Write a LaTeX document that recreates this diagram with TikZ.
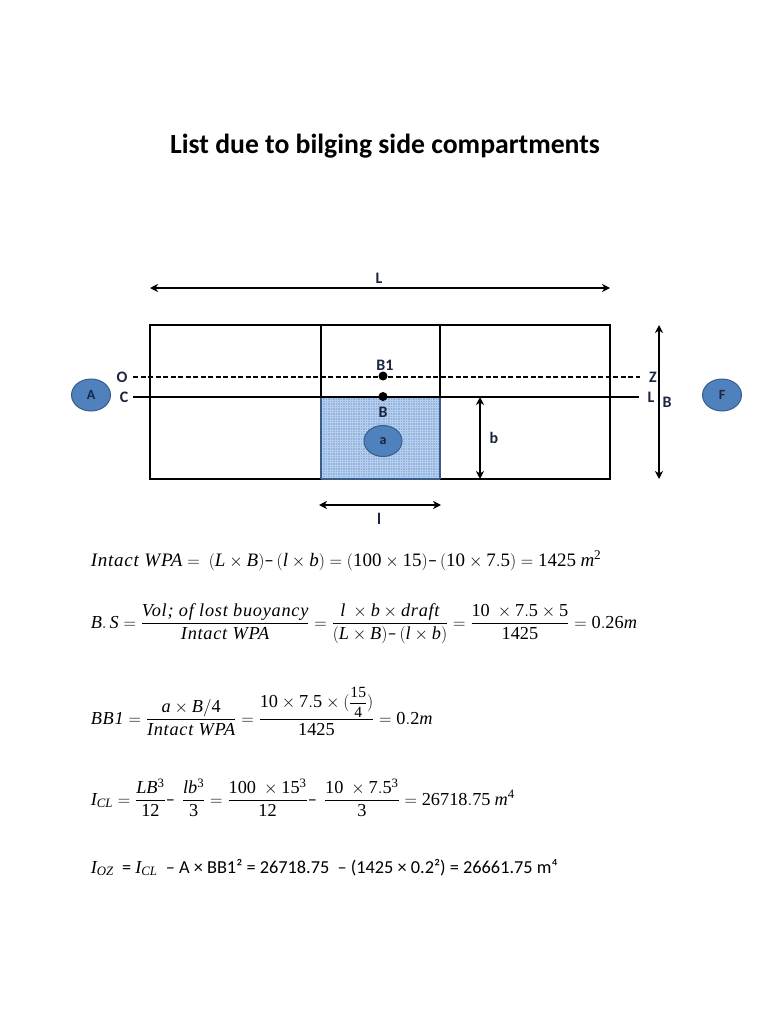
\documentclass[tikz,border=0pt]{standalone}
\usepackage{amsmath}
\usepackage{mathspec}
\setmainfont{Carlito}
\setmathfont(Digits,Latin){Liberation Serif}
\newfontfamily\eqfont[LetterSpace=4]{Liberation Serif}
\usetikzlibrary{arrows.meta}
\usetikzlibrary{shapes.geometric}
\definecolor{bluefill}{HTML}{4F81BD}
\definecolor{bluehatch}{HTML}{8FB1DF}
\definecolor{bluegrid}{HTML}{B7CDEC}
\definecolor{blueline}{HTML}{385D8A}
\definecolor{labelcol}{HTML}{1B2440}
\def\dashop{\mbox{--}\,}
\newcommand{\eqw}[1]{\text{\eqfont\itshape #1}}

\begin{document}
\begin{tikzpicture}[x=1pt,y=-1pt,line width=1.6pt,>={Stealth[length=8pt,width=8pt,inset=2.5pt]}]
	\tikzstyle{marker}=[ellipse,fill=bluefill,draw=blueline,line width=1pt,minimum width=39pt,minimum height=32pt,inner sep=0pt,font=\bfseries\fontsize{14}{14}\selectfont,text=labelcol]
	\tikzstyle{dot}=[circle,fill=black,minimum size=9pt,inner sep=0pt]
	\tikzstyle{annot}=[font=\bfseries\fontsize{16}{16}\selectfont,text=labelcol,inner sep=0pt]
	\tikzstyle{formula}=[anchor=base west,inner sep=0pt,font=\fontsize{18.3}{20}\selectfont]
	\useasboundingbox (0,0) rectangle (768,1024);

	\node[font=\bfseries\fontsize{27.7}{30}\selectfont] (title) at (385,146) {List due to bilging side compartments};

	% Draw the flooded compartment
	\fill[bluehatch] (321,397) rectangle (440,479);
	\draw[bluegrid,line width=0.6pt,step=2.5pt] (321,397) grid (440,479);

	% Draw the hull
	\draw (150,325) rectangle (610,479);
	\draw (321,325) -- (321,479);
	\draw (440,325) -- (440,479);
	\draw[blueline] (321,397) -- (321,479) (440,397) -- (440,479) (321,479) -- (440,479);

	% The end points of the arrows and waterlines
	\foreach \name / \x / \y in {L1/150/288,L2/610/288,l1/319/505,l2/441/505,b1/480/397,b2/480/479,B1/659/325,B2/659/479,O1/133/377,O2/640/377,C1/133/397,C2/639/397}
	\coordinate (\name) at (\x,\y);

	% Waterlines
	\draw[dash pattern=on 5pt off 2.5pt] (O1) -- (O2);
	\draw (C1) -- (C2);
	\node[annot] (O) at (122,377) {O};
	\node[annot] (C) at (124,397) {C};
	\node[annot] (Z) at (653,377) {Z};
	\node[annot] (WL) at (651,397) {L};

	% Centres of buoyancy
	\node[dot] (G1) at (383,376) {};
	\node[dot] (G) at (383,396.5) {};
	\node[annot] (G1t) at (385,365) {B1};
	\node[annot] (Gt) at (383,412) {B};

	% Markers
	\node[marker] (A) at (91,395) {A};
	\node[marker] (F) at (722,395) {F};
	\node[marker,minimum width=38pt,minimum height=31pt] (a) at (383,441) {a};

	% Dimension arrows
	\draw[<->] (L1) -- (L2);
	\draw[<->] (l1) -- (l2);
	\draw[<->] (b1) -- (b2);
	\draw[<->] (B1) -- (B2);
	\node[annot] (Lt) at (379,278) {L};
	\node[annot] (lt) at (379,519) {l};
	\node[annot] (bt) at (494,438) {b};
	\node[annot] (Bt) at (667,402) {B};

	% Formulas
	\node[formula,font=\fontsize{19}{20}\selectfont] (eq1) at (90,566) {$\eqw{Intact WPA}={}\ (L\times B)\dashop(l\times b)=(100\times 15)\dashop(10\times 7.5)=1425\ m^2$};
	\node[formula] (eq2) at (90,628) {$B.\,S=\dfrac{\eqw{Vol; of lost buoyancy}}{\eqw{Intact WPA}}=\dfrac{l\ \times b\times \eqw{draft}}{(L\times B)\dashop(l\times b)}=\dfrac{10\ \times 7.5\times 5}{1425}=0.26m$};
	\node[formula] (eq3) at (90,724) {$\eqw{BB1}=\dfrac{a\times B/4}{\eqw{Intact WPA}}=\dfrac{10\times 7.5\times (\scalebox{0.85}{$\dfrac{15}{4}$})}{1425}=0.2m$};
	\node[formula] (eq4) at (90,805) {$I_{CL}=\dfrac{LB^3}{12}\dashop\ \dfrac{lb^3}{3}=\dfrac{100\ \times 15^3}{12}\dashop\ \dfrac{10\ \times 7.5^3}{3}=26718.75\ m^4$};
	\node[anchor=base west,inner sep=0pt,font=\fontsize{18.3}{20}\selectfont] (eq5) at (90,873) {$I_{OZ}$\ \ = $I_{CL}$\ \ -- A × BB1² = 26718.75\ \ -- (1425 × 0.2²) = 26661.75 m⁴};
\end{tikzpicture}
\end{document}
